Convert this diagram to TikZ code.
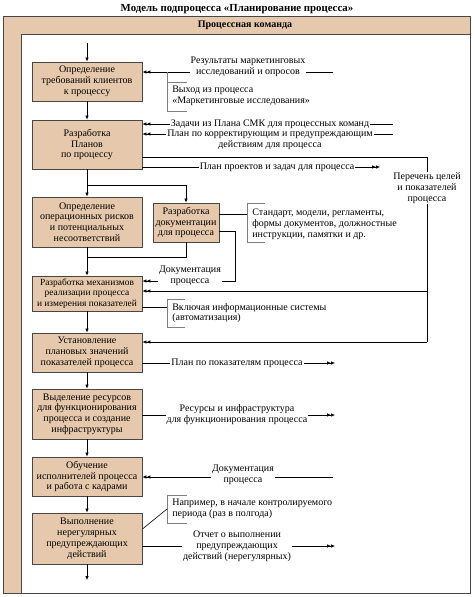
\documentclass[tikz,border=0pt]{standalone}
\usepackage{fontspec}
\setmainfont{Liberation Serif}
\usetikzlibrary{arrows.meta}

\definecolor{band}{RGB}{230,201,172}
\definecolor{edge}{RGB}{70,70,70}

\begin{document}
\begin{tikzpicture}[x=1pt,y=-1pt,line width=.6pt,
  every node/.style={font=\fontsize{10}{10.8}\selectfont},
  box/.style={draw=edge,fill=band,line width=.9pt,minimum width=110pt,align=center,inner sep=1pt},
  lbl/.style={fill=white,align=center,inner sep=1pt},
  note/.style={anchor=west,align=left,inner sep=1pt},
  arr/.style={-{Latex[length=4pt,width=3.5pt]}},
  dbl/.style={-{Latex[length=4pt,width=3.5pt]Latex[length=4pt,width=3.5pt]}},
  brk/.style={draw=gray,line width=.5pt}]

\useasboundingbox (0,0) rectangle (474,597);

\def\cx{87}; \def\ox{167}; \def\tip{335};

%% frame
\fill[band] (3,16) rectangle (470,593);
\fill[white] (21,34) rectangle (470,593);
\draw[edge,line width=.8pt] (3,16) rectangle (470,593);
\draw[edge,line width=.8pt] (21,593) -- (21,34) -- (470,34);

\node[font=\bfseries\fontsize{10.8}{12}\selectfont] (title) at (237,9) {Модель подпроцесса «Планирование процесса»};
\node[font=\bfseries\fontsize{10}{10.8}\selectfont] (team) at (245,25) {Процессная команда};

%% boxes
\node[box,minimum height=39pt] (req) at (\cx,81.5) {Определение\\требований клиентов\\к процессу};
\node[box,minimum height=49pt] (plan) at (\cx,144.5) {Разработка\\Планов\\по процессу};
\node[box,minimum height=50pt] (risk) at (\cx,222) {Определение\\операционных рисков\\и потенциальных\\несоответствий};
\node[box,minimum width=66pt,minimum height=39pt] (docs) at (186,222.5) {Разработка\\документации\\для процесса};
\node[box,minimum height=35pt,inner sep=0pt,font=\fontsize{9.4}{10.8}\selectfont] (mech) at (\cx,293.5) {Разработка механизмов\\реализации процесса\\и измерения показателей};
\node[box,minimum height=39pt] (target) at (\cx,352.5) {Установление\\плановых значений\\показателей процесса};
\node[box,minimum height=50pt] (res) at (\cx,414) {Выделение ресурсов\\для функционирования\\процесса и создание\\инфраструктуры};
\node[box,minimum height=39pt] (train) at (\cx,476.5) {Обучение\\исполнителей процесса\\и работа с кадрами};
\node[box,minimum height=51pt] (prev) at (\cx,538.5) {Выполнение\\нерегулярных\\предупреждающих\\действий};

%% main flow
\coordinate (top) at (\cx,43);
\coordinate (fork) at (\cx,185);
\coordinate (join) at (\cx,257);
\coordinate (bot) at (\cx,580);
\draw[arr] (top) -- (req);
\draw[arr] (req) -- (plan);
\draw[arr] (plan) -- (risk);
\draw[arr] (fork) -| (docs);
\draw[arr] (risk) -- (mech);
\draw (docs) |- (join);
\draw[arr] (mech) -- (target);
\draw[arr] (target) -- (res);
\draw[arr] (res) -- (train);
\draw[arr] (train) -- (prev);
\draw[arr] (prev) -- (bot);

%% inputs to requirements
\coordinate (mkt) at (333,72);
\draw[dbl] (mkt) -- (mkt -| req.east);
\node[lbl] (mktl) at (248,66.5) {Результаты маркетинговых\\исследований и опросов};
\draw[brk] (\ox,72) -- (\ox,111) -- (187,111);
\draw[brk] (\ox,82) -- (187,82);
\node[note] (outl) at (171,96) {Выход из процесса\\«Маркетинговые исследования»};

%% inputs and outputs of plans
\coordinate (cor) at (393,134);
\draw[dbl] (cor) -- (cor -| plan.east);
\node[lbl] (corl) at (270,139.5) {План по корректирующим и предупреждающим\\действиям для процесса};
\coordinate (smk) at (393,124);
\draw[dbl] (smk) -- (smk -| plan.east);
\node[lbl] (smkl) at (270,124) {Задачи из Плана СМК для процессных команд};

\coordinate (g1) at (427,157);
\coordinate (g2) at (427,291);
\coordinate (g3) at (427,342);
\draw (plan.east |- g1) -- (g1) -- (g3);
\draw[dbl] (g3) -- (g3 -| target.east);
\draw[dbl] (g2) -- (g2 -| mech.east);
\node[lbl] (goall) at (427,188) {Перечень целей\\и показателей\\процесса};

\coordinate (proj) at (380,167);
\draw[dbl] (plan.east |- proj) -- (proj);
\node[lbl] (projl) at (277,167) {План проектов и задач для процесса};

%% documentation
\draw (docs.east |- 0,214) -- (247,214);
\draw[brk] (265,203) -- (247,203) -- (247,242) -- (265,242);
\node[note] (stdl) at (251,224) {Стандарт, модели, регламенты,\\формы документов, должностные\\инструкции, памятки и др.};
\coordinate (dk) at (235,231);
\draw[dbl] (docs.east |- dk) -- (dk) |- (mech.east |- 0,281);
\node[lbl] (dkl) at (190,276) {Документация\\процесса};

\draw (mech.east |- 0,307) -- (\ox,307);
\draw[brk] (185,299) -- (\ox,299) -- (\ox,327) -- (185,327);
\node[note] (itl) at (171,313) {Включая информационные системы\\(автоматизация)};

%% outputs further down
\coordinate (kpi) at (\tip,363);
\draw[dbl] (target.east |- kpi) -- (kpi);
\node[lbl] (kpil) at (237,363) {План по показателям процесса};

\coordinate (infra) at (\tip,415);
\draw[dbl] (res.east |- infra) -- (infra);
\node[lbl] (infral) at (237,415) {Ресурсы и инфраструктура\\для функционирования процесса};

\coordinate (doc2) at (333,477);
\draw[dbl] (doc2) -- (doc2 -| train.east);
\node[lbl] (doc2l) at (243,475) {Документация\\процесса};

\draw (prev.east |- 0,529) -- (\ox,509);
\draw[brk] (187,495) -- (\ox,495) -- (\ox,523) -- (187,523);
\node[note] (whenl) at (171,509) {Например, в начале контролируемого\\периода (раз в полгода)};

\coordinate (rep) at (\tip,546);
\draw[dbl] (prev.east |- rep) -- (rep);
\node[lbl] (repl) at (237,546) {Отчет о выполнении\\предупреждающих\\действий (нерегулярных)};

\end{tikzpicture}
\end{document}
